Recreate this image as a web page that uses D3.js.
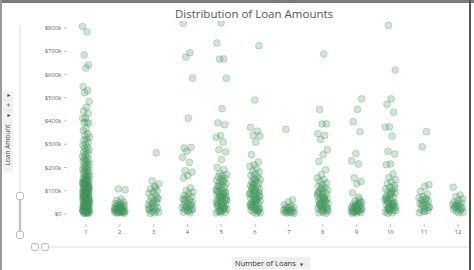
<!DOCTYPE html>
<meta charset="utf-8">
<style>
    body { margin: 0; background: #fff; font-family: "Open Sans", "DejaVu Sans", sans-serif; }
    .tick-label { font-size: 6px; fill: #666; }
    .dot { fill: #3f9a5c; fill-opacity: 0.25; stroke: #3f8f57; stroke-opacity: 0.35; stroke-width: 0.8px; }
</style>
<body>
<script src="https://d3js.org/d3.v7.min.js"></script>
<script>
    // Chart data: loan amounts ($k) by number of loans
    var categories = [1, 2, 3, 4, 5, 6, 7, 8, 9, 10, 11, 12];
    var yTicks = [0, 100, 200, 300, 400, 500, 600, 700, 800];
    var yTickLabels = ["$0", "$100k", "$200k", "$300k", "$400k", "$500k", "$600k", "$700k", "$800k"];

    var loans1 = [806, 783, 684, 641, 628, 548, 531, 522, 484, 459, 443, 432, 414, 411, 395, 393, 390, 367, 359,
        344, 337, 331, 322, 318, 309, 301, 296, 288, 283, 276, 271, 266, 259, 254, 247, 243, 238, 233, 229, 226,
        221, 217, 213, 209, 204, 200, 197, 193, 189, 186, 183, 179, 176, 172, 169, 166, 163, 160, 157, 154, 151,
        149, 147, 145, 142, 140, 138, 136, 134, 131, 129, 127, 125, 123, 121, 119, 117, 115, 113, 111, 109, 107,
        105, 103, 101, 99, 97, 95, 93, 91, 89, 87, 85, 83, 81, 79, 77, 75, 73, 71, 69, 67, 65, 63, 61, 59, 57,
        55, 53, 51, 49, 47, 45, 43, 41, 39, 37, 35, 33, 31, 29, 27, 25, 23, 21, 19, 17, 15, 13, 11, 9, 7, 5, 3, 2,
        144, 132, 118, 102, 96, 88, 72, 64, 58, 48, 42, 36, 28, 22, 14, 8, 4, 62, 54, 34, 18, 26, 12, 6,
        128, 112, 92, 78, 46, 32, 16, 10];
    var loans2 = [108, 104, 65, 58, 52, 48, 45, 42, 40, 38, 35, 33, 30, 28, 26, 24, 22, 20, 18, 16, 15, 13,
        12, 10, 9, 8, 7, 6, 5, 4, 3, 31, 21, 11, 25, 17];
    var loans3 = [263, 142, 130, 120, 108, 100, 95, 88, 80, 72, 66, 60, 55, 50, 44, 40, 35, 30, 26, 22, 18,
        14, 10, 8, 5, 3, 70, 48, 24, 112];
    var loans4 = [820, 694, 675, 584, 412, 284, 286, 270, 244, 222, 186, 180, 165, 155, 112, 100, 95, 88, 80,
        75, 70, 65, 60, 55, 50, 45, 40, 36, 32, 28, 24, 20, 16, 12, 8, 5, 30, 22, 15, 62, 42];
    var loans5 = [822, 736, 667, 666, 584, 453, 392, 384, 338, 330, 310, 277, 267, 234, 200, 190, 175, 170,
        165, 160, 155, 150, 145, 140, 135, 130, 125, 120, 115, 110, 105, 100, 96, 92, 88, 84, 80, 76, 72, 68,
        64, 60, 56, 52, 48, 44, 40, 36, 32, 28, 24, 20, 16, 12, 8, 5, 98, 86, 74, 62, 50, 38, 26, 14, 4,
        142, 118, 94, 70, 46, 22, 10, 58, 34];
    var loans6 = [724, 490, 372, 356, 338, 336, 310, 255, 224, 212, 205, 195, 185, 180, 172, 166, 160, 154,
        148, 142, 137, 132, 127, 122, 117, 112, 108, 104, 100, 96, 92, 88, 84, 80, 76, 72, 68, 64, 60, 56, 52,
        48, 44, 40, 36, 32, 28, 24, 20, 16, 12, 8, 5, 3, 114, 90, 66, 42, 18, 130, 78, 54, 30, 10, 102, 86,
        62, 38, 22, 150];
    var loans7 = [364, 61, 53, 40, 35, 30, 28, 25, 22, 20, 18, 16, 14, 12, 10, 8, 6, 5, 4, 3];
    var loans8 = [688, 450, 388, 387, 346, 338, 320, 277, 255, 226, 190, 169, 155, 148, 140, 133, 126, 120,
        114, 108, 102, 97, 92, 87, 82, 77, 72, 68, 64, 60, 56, 52, 48, 44, 40, 36, 32, 28, 24, 20, 16, 12, 8,
        5, 3, 110, 86, 66, 46, 26, 14, 94, 58, 34, 18, 70, 42];
    var loans9 = [495, 450, 397, 354, 260, 229, 215, 155, 140, 130, 91, 62, 56, 50, 46, 42, 38, 35, 32, 29,
        26, 23, 20, 18, 16, 14, 12, 10, 8, 6, 4, 3, 44, 30, 22, 15, 9, 52, 36, 24, 72];
    var loans10 = [811, 619, 495, 472, 438, 375, 374, 335, 270, 258, 215, 212, 172, 157, 147, 138, 130, 122,
        115, 108, 102, 96, 90, 84, 78, 72, 67, 62, 57, 52, 48, 44, 40, 36, 32, 28, 24, 20, 16, 12, 8, 5, 3,
        110, 86, 64, 46, 26, 14, 94, 56, 34, 18, 70, 42, 22];
    var loans11 = [354, 289, 126, 118, 97, 85, 75, 70, 65, 60, 55, 50, 45, 40, 35, 30, 25, 20, 15, 10, 5,
        62, 42, 28, 12];
    var loans12 = [115, 82, 75, 65, 58, 52, 48, 44, 40, 36, 32, 28, 24, 20, 16, 12, 8, 5, 30, 22, 38];

    var series = [loans1, loans2, loans3, loans4, loans5, loans6, loans7, loans8, loans9, loans10, loans11, loans12];

    var width = 474, height = 270;
    var svg = d3.select("body").append("svg")
        .attr("width", width)
        .attr("height", height);

    // Frame
    svg.append("rect").attr("x", 0).attr("y", 0).attr("width", width).attr("height", 3).attr("fill", "#7a7a7a");
    svg.append("rect").attr("x", 0).attr("y", 0).attr("width", 2).attr("height", height).attr("fill", "#9a9a9a");
    svg.append("rect").attr("x", 469).attr("y", 0).attr("width", 2).attr("height", height).attr("fill", "#555");

    // Title
    svg.append("text")
        .attr("x", 254).attr("y", 18)
        .attr("text-anchor", "middle")
        .attr("font-size", "11.5px")
        .attr("fill", "#555")
        .text("Distribution of Loan Amounts");

    // Scales
    var x = d3.scalePoint().domain(categories).range([86, 458]);
    var y = d3.scaleLinear().domain([0, 800]).range([214, 28]);

    // Y axis
    var yAxis = svg.append("g");
    yTicks.forEach(function (t, i) {
        yAxis.append("text")
            .attr("class", "tick-label")
            .attr("x", 61.5).attr("y", y(t) + 2.2)
            .attr("text-anchor", "end")
            .text(yTickLabels[i]);
        yAxis.append("line")
            .attr("x1", 64).attr("x2", 67)
            .attr("y1", y(t)).attr("y2", y(t))
            .attr("stroke", "#999").attr("stroke-width", 0.6);
    });

    // X axis
    var xAxis = svg.append("g");
    categories.forEach(function (c) {
        xAxis.append("line")
            .attr("x1", x(c)).attr("x2", x(c))
            .attr("y1", 224).attr("y2", 227)
            .attr("stroke", "#999").attr("stroke-width", 0.6);
        xAxis.append("text")
            .attr("class", "tick-label")
            .attr("x", x(c)).attr("y", 234)
            .attr("text-anchor", "middle")
            .text(c);
    });

    // Clip for the plot area
    svg.append("clipPath").attr("id", "plotclip")
        .append("rect").attr("x", 68).attr("y", 21).attr("width", 400).attr("height", 210);

    // Dots, jittered sideways by a fixed golden-ratio sequence
    var points = [];
    series.forEach(function (vals, ci) {
        var spread = ci === 0 ? 7 : 11;
        vals.forEach(function (v, i) {
            var f = (i * 0.618034 + ci * 0.37) % 1;
            points.push({ cat: categories[ci], value: v, off: (f - 0.5) * spread });
        });
    });

    svg.append("g")
        .attr("clip-path", "url(#plotclip)")
        .selectAll("circle")
        .data(points)
        .enter().append("circle")
        .attr("class", "dot")
        .attr("cx", d => x(d.cat) + d.off)
        .attr("cy", d => y(d.value))
        .attr("r", 3.4);

    // Left slider
    svg.append("line").attr("x1", 20).attr("x2", 20).attr("y1", 25).attr("y2", 238)
        .attr("stroke", "#e8e8e8").attr("stroke-width", 1.5);
    svg.append("line").attr("x1", 20).attr("x2", 20).attr("y1", 196).attr("y2", 235)
        .attr("stroke", "#c4c4c4").attr("stroke-width", 2.5);
    [196, 235].forEach(function (yy) {
        svg.append("rect").attr("x", 16.5).attr("y", yy - 3.5).attr("width", 7).attr("height", 7)
            .attr("rx", 2).attr("fill", "#fff").attr("stroke", "#aaa").attr("stroke-width", 0.8);
    });

    // Bottom slider
    svg.append("line").attr("x1", 48).attr("x2", 469).attr("y1", 247).attr("y2", 247)
        .attr("stroke", "#e8e8e8").attr("stroke-width", 1.5);
    [35, 45].forEach(function (xx) {
        svg.append("rect").attr("x", xx - 3.5).attr("y", 243.5).attr("width", 7).attr("height", 7)
            .attr("rx", 2).attr("fill", "#fff").attr("stroke", "#aaa").attr("stroke-width", 0.8);
    });

    // Y axis field box
    svg.append("rect").attr("x", 3).attr("y", 91).attr("width", 10).attr("height", 82)
        .attr("fill", "#f2f2f2");
    svg.append("line").attr("x1", 3).attr("x2", 13).attr("y1", 110).attr("y2", 110)
        .attr("stroke", "#ddd").attr("stroke-width", 0.6);
    svg.append("line").attr("x1", 3).attr("x2", 13).attr("y1", 100).attr("y2", 100)
        .attr("stroke", "#ddd").attr("stroke-width", 0.6);
    svg.append("text")
        .attr("transform", "translate(10.3,145) rotate(-90)")
        .attr("text-anchor", "middle")
        .attr("font-size", "6.5px").attr("fill", "#444")
        .text("Loan Amount");
    svg.append("text")
        .attr("transform", "translate(10,115.5) rotate(-90)")
        .attr("text-anchor", "middle")
        .attr("font-size", "4px").attr("fill", "#444")
        .text("▼");
    svg.append("text")
        .attr("transform", "translate(10.5,105) rotate(-90)")
        .attr("text-anchor", "middle")
        .attr("font-size", "7px").attr("fill", "#444")
        .text("+");
    svg.append("text")
        .attr("transform", "translate(10,95.5) rotate(-90)")
        .attr("text-anchor", "middle")
        .attr("font-size", "4px").attr("fill", "#444")
        .text("▼");

    // X axis field box
    svg.append("rect").attr("x", 232).attr("y", 257).attr("width", 78).attr("height", 12)
        .attr("fill", "#efefef");
    svg.append("text")
        .attr("x", 235).attr("y", 266)
        .attr("font-size", "7.5px").attr("fill", "#333")
        .text("Number of Loans");
    svg.append("text")
        .attr("x", 300).attr("y", 265.5)
        .attr("font-size", "4px").attr("fill", "#444")
        .text("▼");
</script>
</body>
